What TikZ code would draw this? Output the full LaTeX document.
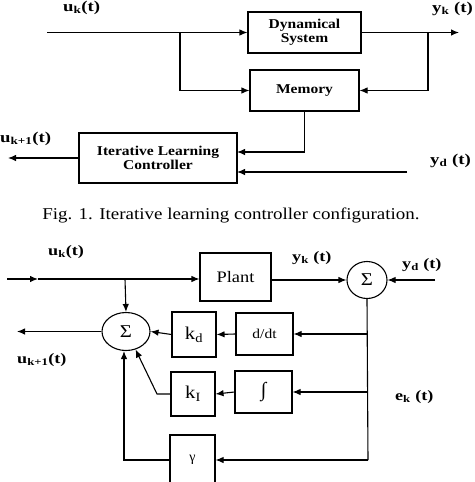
\documentclass[tikz,border=0pt]{standalone}
\usepackage{fontspec}
\setmainfont{Liberation Serif}[FakeStretch=1.15]
\newfontfamily\lblf{Liberation Serif}[FakeStretch=1.25]
\newfontfamily\plainf{Liberation Serif}
\usetikzlibrary{arrows.meta,shapes.geometric}
\tikzset{
  blk/.style={draw,line width=1.1pt,rectangle,inner sep=0pt,align=center},
  bt/.style={font=\bfseries\fontsize{13.5}{13.5}\selectfont},
  lt/.style={font=\fontsize{16}{16}\selectfont},
  lbl/.style={font=\lblf\bfseries\fontsize{15}{15}\selectfont,inner sep=0pt,anchor=west},
  lbb/.style={font=\lblf\bfseries\fontsize{14.5}{15}\selectfont,inner sep=0pt,anchor=west},
  wire/.style={line width=1.1pt},
  arr/.style={line width=1.1pt,-{Latex[length=8pt,width=6.5pt]}},
  sum/.style={draw,line width=1.1pt,ellipse,inner sep=0pt,font=\fontsize{18}{18}\selectfont}
}
\begin{document}
\begin{tikzpicture}[x=1pt,y=-1pt]
\useasboundingbox (0,0) rectangle (474,482);
\clip (0,0) rectangle (474,482);
% ---------- top diagram ----------
\node[blk,bt,minimum width=113pt,minimum height=41pt] (ds) at (304.5,32.5) {Dynamical\\System};
\node[blk,bt,minimum width=109pt,minimum height=41pt] (mem) at (304.5,90.5) {Memory};
\node[blk,bt,minimum width=158pt,minimum height=50pt] (ilc) at (158,158) {Iterative Learning\\Controller};
\coordinate (uin) at (47,32.5);
\coordinate (b1) at (180,32.5);
\coordinate (b1d) at (180,90.5);
\coordinate (yout) at (459,32.5);
\coordinate (b2) at (428,32.5);
\coordinate (b2d) at (428,90.5);
\coordinate (m1) at (304.5,152);
\coordinate (m2) at (237,152);
\coordinate (ydin) at (407,172);
\coordinate (ydend) at (237,172);
\coordinate (uout) at (8,158);
\draw[arr] (uin) -- (ds.west);
\draw[arr] (b1) -- (b1d) -- (mem.west);
\draw[arr] (ds.east) -- (yout);
\draw[arr] (b2) -- (b2d) -- (mem.east);
\draw[arr] (mem.south) -- (m1) -- (m2);
\draw[arr] (ydin) -- (ydend);
\draw[arr] (ilc.west) -- (uout);
\node[lbl] (l1) at (63,8) {u\textsubscript{k}(t)};
\node[lbl] (l2) at (432,9) {y\textsubscript{k} (t)};
\node[lbl] (l3) at (430,161) {y\textsubscript{d} (t)};
\node[lbl] (l4) at (0,139) {u\textsubscript{k+1}(t)};
% caption
\node[font=\fontsize{16.5}{16.5}\selectfont] (cap) at (231,215) {Fig. 1. Iterative learning controller configuration.};
% ---------- bottom diagram ----------
\node[blk,lt,minimum width=71pt,minimum height=48pt] (plant) at (235.5,277) {Plant};
\node[sum,minimum width=40pt,minimum height=37pt] (s1) at (367,280) {Σ};
\node[sum,minimum width=48pt,minimum height=38pt] (s2) at (126,331.5) {Σ};
\node[blk,minimum width=44pt,minimum height=45pt,font=\fontsize{18}{18}\selectfont] (kd) at (194,334.5) {k\textsubscript{d}};
\node[blk,font=\fontsize{13.5}{14}\selectfont,minimum width=57pt,minimum height=42pt] (ddt) at (264.5,334) {d/dt};
\node[blk,minimum width=44pt,minimum height=44pt,font=\fontsize{18}{18}\selectfont] (ki) at (193,394) {k\textsubscript{I}};
\node[blk,minimum width=57pt,minimum height=42pt,font=\plainf\fontsize{20}{20}\selectfont] (int) at (263.5,392) {∫};
\node[blk,minimum width=45pt,minimum height=50pt,font=\plainf\fontsize{14}{14}\selectfont] (gam) at (192.5,460) {γ};
\coordinate (in0) at (7,279);
\coordinate (in1) at (38,279);
\coordinate (bb) at (125,279);
\coordinate (ydb) at (435,280);
\coordinate (e1) at (368,334);
\coordinate (e2) at (368,392);
\coordinate (e3) at (368,460);
\coordinate (ki1) at (157,394);
\coordinate (g1) at (124,460);
\coordinate (out2) at (17,331.5);
\draw[arr] (in0) -- (in1);
\draw[arr] (in1) -- (plant.west |- in1);
\draw[arr] (bb) -- (s2.north);
\draw[arr] (plant.east |- s1) -- (s1.west);
\draw[arr] (ydb) -- (s1.east);
\draw[wire] (s1.south) -- (e3);
\draw[arr] (e1) -- (ddt.east);
\draw[arr] (ddt.west) -- (kd.east);
\draw[arr] (kd.west) -- (s2.east);
\draw[arr] (e2) -- (int.east);
\draw[arr] (int.west) -- (ki.east);
\draw[arr] (ki.west) -- (ki1) -- (s2.-62);
\draw[arr] (e3) -- (gam.east);
\draw[arr] (gam.west) -- (g1) -- (g1 |- s2.south);
\draw[arr] (s2.west) -- (out2);
\node[lbb] (m1l) at (48,252) {u\textsubscript{k}(t)};
\node[lbb] (m2l) at (292,258) {y\textsubscript{k} (t)};
\node[lbb] (m3l) at (402,265) {y\textsubscript{d} (t)};
\node[lbb] (m4l) at (17,360) {u\textsubscript{k+1}(t)};
\node[lbb] (m5l) at (395,397) {e\textsubscript{k} (t)};
\end{tikzpicture}
\end{document}
